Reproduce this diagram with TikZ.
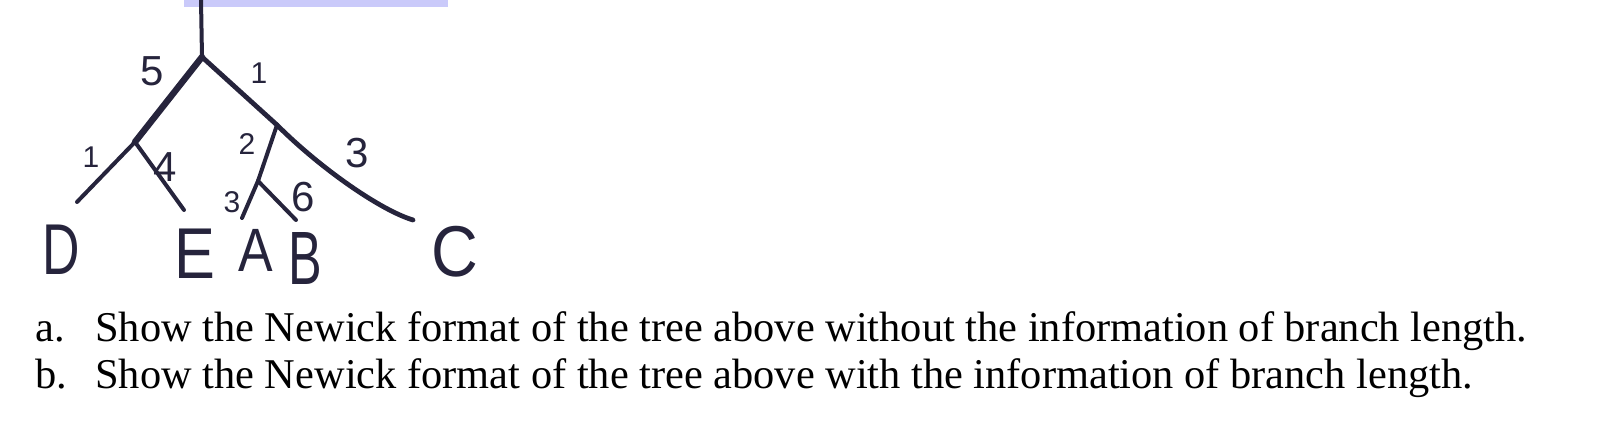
\documentclass[tikz,border=0pt]{standalone}
\usepackage{fontspec}
\setmainfont{Liberation Serif}
\newfontfamily\handfont{Liberation Sans}
\usepackage{xcolor}
\definecolor{penInk}{RGB}{38, 36, 60}
\definecolor{markLavender}{RGB}{202, 202, 250}

\begin{document}
\begin{tikzpicture}[x=0.5pt,y=-0.5pt]
                    \tikzstyle{branch} = [draw=penInk, line width=2pt, line cap=round, line join=round]
                    \tikzstyle{len} = [text=penInk, inner sep=0pt, font=\handfont\fontsize{15}{15}\selectfont]
                    \tikzstyle{lenbig} = [len, font=\handfont\fontsize{21}{21}\selectfont]
                    \tikzstyle{leaf} = [text=penInk, inner sep=0pt, font=\handfont\fontsize{36}{36}\selectfont]
                    \tikzstyle{item} = [anchor=base west, inner sep=0pt, font=\fontsize{21.2}{21.2}\selectfont]
                    \useasboundingbox (0,0) rectangle (1618,426);
                    \fill[markLavender] (184,0) rectangle (448,7);
                    \coordinate (top) at (201,0);
                    \coordinate (root) at (202,57);
                    \coordinate (de) at (135,142);
                    \coordinate (abc) at (277,125);
                    \coordinate (ab) at (258,181);
                    \coordinate (d) at (77,202);
                    \coordinate (e) at (184,210);
                    \coordinate (a) at (242,218);
                    \coordinate (b) at (296,220);
                    \coordinate (c) at (413,220);
                    \draw[branch] (top) -- (root);
                    \draw[branch, line width=3.2pt] (root) -- (de);
                    \draw[branch] (de) -- (d);
                    \draw[branch] (de) -- (e);
                    \draw[branch, line width=2.4pt] (root) -- (abc);
                    \draw[branch] (abc) -- (ab);
                    \draw[branch] (ab) -- (a);
                    \draw[branch] (ab) -- (b);
                    \draw[branch, line width=2.4pt] (abc) .. controls (320,168) and (380,210) .. (c);
                    \node[lenbig] (l5) at (152,71) {5};
                    \node[len] (l1) at (259,73) {1};
                    \node[len] (l1d) at (91,157) {1};
                    \node[lenbig] (l4) at (165,167) {4};
                    \node[len] (l2) at (247,144) {2};
                    \node[lenbig] (l3c) at (357,153) {3};
                    \node[len] (l3a) at (232,202) {3};
                    \node[lenbig] (l6) at (303,197) {6};
                    \node[leaf] (nd) at (61,250) {\scalebox{0.72}[1]{D}};
                    \node[leaf] (ne) at (195,254) {\scalebox{0.85}[1]{E}};
                    \node[leaf] (na) at (256,250) {\scalebox{0.72}[0.85]{A}};
                    \node[leaf] (nb) at (305,258) {\scalebox{0.7}[1.05]{B}};
                    \node[leaf] (nc) at (455,252) {\scalebox{0.9}[1]{C}};
                    \node[item] (qa) at (35,342) {a.};
                    \node[item] (ta) at (95,342) {Show the Newick format of the tree above without the information of branch length.};
                    \node[item] (qb) at (35,389) {b.};
                    \node[item] (tb) at (95,389) {Show the Newick format of the tree above with the information of branch length.};
                \end{tikzpicture}
\end{document}
